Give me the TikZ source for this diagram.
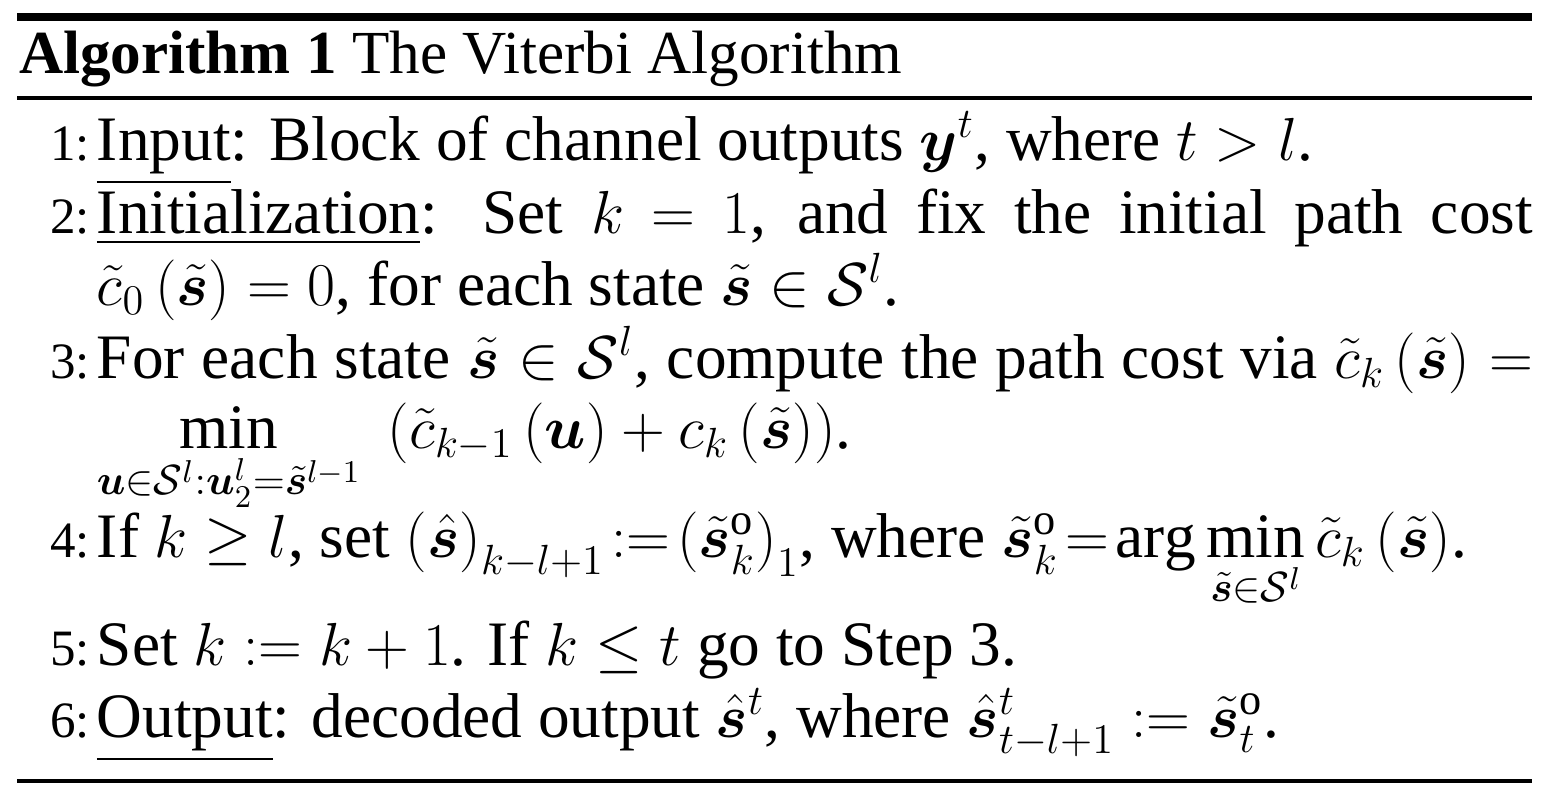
\documentclass[tikz,border=0pt]{standalone}
\usepackage{amsmath,bm}
\usepackage{fontspec}
\setmainfont{Liberation Serif}
\begin{document}
\begin{tikzpicture}[x=0.01cm,y=-0.01cm,
  every node/.style={inner sep=0pt,outer sep=0pt,font=\fontsize{18}{20.7}\selectfont},
  num/.style={anchor=base east,font=\fontsize{14.5}{17}\selectfont},
  txt/.style={anchor=base west},
  rule/.style={line width=#1}]
\useasboundingbox (0,0) rectangle (1542,793);
\draw[rule=2.4pt] (17,17) coordinate (t1) -- (1532,17) coordinate (t2);
\draw[rule=1.3pt] (17,98) coordinate (m1) -- (1532,98) coordinate (m2);
\draw[rule=1.3pt] (17,781) coordinate (b1) -- (1532,781) coordinate (b2);
\node[txt,font=\fontsize{17.4}{20}\selectfont] (h) at (19,73) {\textbf{Algorithm 1} The Viterbi Algorithm};
\node[num] (n1) at (90,160) {1:};
\node[txt] (l1) at (97,160) {\underline{Input}: Block of channel outputs $\bm{y}^t$, where $t>l$.};
\node[num] (n2) at (90,233) {2:};
\node[txt] (l2) at (97,233) {\makebox[14.35cm][s]{\underline{Initialization}: Set $k$ $=$ $1$, and fix the initial path cost}};
\node[txt] (l2b) at (97,305) {$\tilde c_0\left(\tilde{\bm{s}}\right)=0$, for each state $\tilde{\bm s}\in\mathcal{S}^l$.};
\node[num] (n3) at (90,378) {3:};
\node[txt] (l3) at (97,378) {\makebox[14.35cm][s]{For each state $\tilde{\bm s}\in\mathcal{S}^l$, compute the path cost via $\tilde c_k\left(\tilde{\bm s}\right)=$}};
\node[txt] (l3b) at (97,448) {$\displaystyle\min_{\bm u\in\mathcal S^l:\bm u_2^l=\tilde{\bm s}^{l-1}}\;\left(\tilde c_{k-1}\left(\bm u\right)+c_k\left(\tilde{\bm s}\right)\right)$.};
\node[num] (n4) at (90,557) {4:};
\node[txt] (l4) at (97,557) {If $k\ge l$, set $\left(\hat{\bm s}\right)_{k-l+1}\!:=\!\left(\tilde{\bm s}_k^{\mathrm{o}}\right)_1$, where $\tilde{\bm s}_k^{\mathrm{o}}\!=\!\displaystyle\arg\min_{\tilde{\bm s}\in\mathcal S^l}\tilde c_k\left(\tilde{\bm s}\right)$.};
\node[num] (n5) at (90,665) {5:};
\node[txt] (l5) at (97,665) {Set $k:=k+1$. If $k\le t$ go to Step 3.};
\node[num] (n6) at (90,737) {6:};
\node[txt] (l6) at (97,737) {\underline{Output}: decoded output $\hat{\bm s}^t$, where $\hat{\bm s}_{t-l+1}^t:=\tilde{\bm s}_t^{\mathrm{o}}$.};
\end{tikzpicture}
\end{document}
